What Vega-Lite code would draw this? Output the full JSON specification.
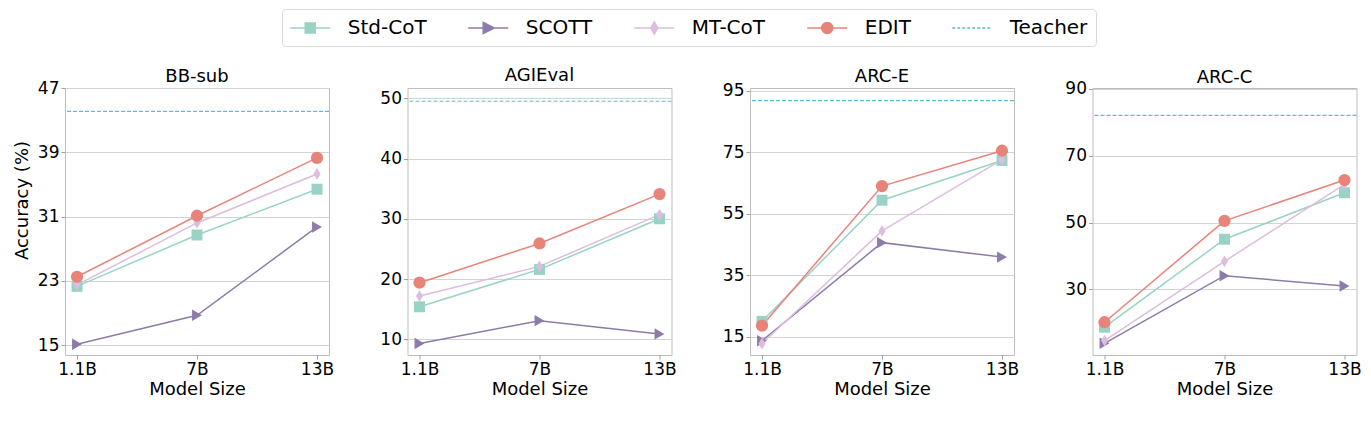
{
  "$schema": "https://vega.github.io/schema/vega-lite/v6.json",
  "description": "Accuracy vs model size for four benchmarks, with teacher reference line.",
  "padding": {"left": 12, "top": 8, "right": 5, "bottom": 5},
  "bounds": "flush",
  "spacing": 78.5,
  "data": {
    "values": [
      {"bench": "BB-sub", "method": "Std-CoT", "size": "1.1B", "acc": 22.3},
      {"bench": "BB-sub", "method": "Std-CoT", "size": "7B", "acc": 28.7},
      {"bench": "BB-sub", "method": "Std-CoT", "size": "13B", "acc": 34.4},
      {"bench": "BB-sub", "method": "SCOTT", "size": "1.1B", "acc": 15.1},
      {"bench": "BB-sub", "method": "SCOTT", "size": "7B", "acc": 18.7},
      {"bench": "BB-sub", "method": "SCOTT", "size": "13B", "acc": 29.7},
      {"bench": "BB-sub", "method": "MT-CoT", "size": "1.1B", "acc": 22.5},
      {"bench": "BB-sub", "method": "MT-CoT", "size": "7B", "acc": 30.2},
      {"bench": "BB-sub", "method": "MT-CoT", "size": "13B", "acc": 36.3},
      {"bench": "BB-sub", "method": "EDIT", "size": "1.1B", "acc": 23.5},
      {"bench": "BB-sub", "method": "EDIT", "size": "7B", "acc": 31.1},
      {"bench": "BB-sub", "method": "EDIT", "size": "13B", "acc": 38.3},
      {"bench": "BB-sub", "method": "Teacher", "size": null, "acc": 44.1},
      {"bench": "AGIEval", "method": "Std-CoT", "size": "1.1B", "acc": 15.4},
      {"bench": "AGIEval", "method": "Std-CoT", "size": "7B", "acc": 21.6},
      {"bench": "AGIEval", "method": "Std-CoT", "size": "13B", "acc": 30.0},
      {"bench": "AGIEval", "method": "SCOTT", "size": "1.1B", "acc": 9.3},
      {"bench": "AGIEval", "method": "SCOTT", "size": "7B", "acc": 13.1},
      {"bench": "AGIEval", "method": "SCOTT", "size": "13B", "acc": 10.9},
      {"bench": "AGIEval", "method": "MT-CoT", "size": "1.1B", "acc": 17.2},
      {"bench": "AGIEval", "method": "MT-CoT", "size": "7B", "acc": 22.1},
      {"bench": "AGIEval", "method": "MT-CoT", "size": "13B", "acc": 30.7},
      {"bench": "AGIEval", "method": "EDIT", "size": "1.1B", "acc": 19.4},
      {"bench": "AGIEval", "method": "EDIT", "size": "7B", "acc": 25.9},
      {"bench": "AGIEval", "method": "EDIT", "size": "13B", "acc": 34.1},
      {"bench": "AGIEval", "method": "Teacher", "size": null, "acc": 49.5},
      {"bench": "ARC-E", "method": "Std-CoT", "size": "1.1B", "acc": 20.0},
      {"bench": "ARC-E", "method": "Std-CoT", "size": "7B", "acc": 59.4},
      {"bench": "ARC-E", "method": "Std-CoT", "size": "13B", "acc": 72.3},
      {"bench": "ARC-E", "method": "SCOTT", "size": "1.1B", "acc": 13.7},
      {"bench": "ARC-E", "method": "SCOTT", "size": "7B", "acc": 45.6},
      {"bench": "ARC-E", "method": "SCOTT", "size": "13B", "acc": 40.9},
      {"bench": "ARC-E", "method": "MT-CoT", "size": "1.1B", "acc": 12.8},
      {"bench": "ARC-E", "method": "MT-CoT", "size": "7B", "acc": 49.4},
      {"bench": "ARC-E", "method": "MT-CoT", "size": "13B", "acc": 72.6},
      {"bench": "ARC-E", "method": "EDIT", "size": "1.1B", "acc": 18.6},
      {"bench": "ARC-E", "method": "EDIT", "size": "7B", "acc": 64.0},
      {"bench": "ARC-E", "method": "EDIT", "size": "13B", "acc": 75.5},
      {"bench": "ARC-E", "method": "Teacher", "size": null, "acc": 91.8},
      {"bench": "ARC-C", "method": "Std-CoT", "size": "1.1B", "acc": 18.7},
      {"bench": "ARC-C", "method": "Std-CoT", "size": "7B", "acc": 45.0},
      {"bench": "ARC-C", "method": "Std-CoT", "size": "13B", "acc": 58.9},
      {"bench": "ARC-C", "method": "SCOTT", "size": "1.1B", "acc": 13.9},
      {"bench": "ARC-C", "method": "SCOTT", "size": "7B", "acc": 34.1},
      {"bench": "ARC-C", "method": "SCOTT", "size": "13B", "acc": 31.0},
      {"bench": "ARC-C", "method": "MT-CoT", "size": "1.1B", "acc": 14.7},
      {"bench": "ARC-C", "method": "MT-CoT", "size": "7B", "acc": 38.4},
      {"bench": "ARC-C", "method": "MT-CoT", "size": "13B", "acc": 61.4},
      {"bench": "ARC-C", "method": "EDIT", "size": "1.1B", "acc": 20.2},
      {"bench": "ARC-C", "method": "EDIT", "size": "7B", "acc": 50.5},
      {"bench": "ARC-C", "method": "EDIT", "size": "13B", "acc": 62.7},
      {"bench": "ARC-C", "method": "Teacher", "size": null, "acc": 82.0}
    ]
  },
  "hconcat": [
    {
      "width": 264,
      "height": 267,
      "title": {"text": "BB-sub", "offset": -7},
      "transform": [{"filter": "datum.bench === 'BB-sub'"}],
      "encoding": {
        "y": {
          "field": "acc",
          "type": "quantitative",
          "scale": {"domain": [13.76, 47], "nice": false, "zero": false},
          "axis": {"values": [15, 23, 31, 39, 47], "title": "Accuracy (%)", "titleY": 112, "titlePadding": 6}
        }
      },
      "layer": [
        {
          "transform": [{"filter": "datum.method === 'Teacher'"}],
          "mark": {"type": "rule", "strokeDash": [4, 2], "strokeWidth": 1.2},
          "encoding": {
            "color": {"field": "method", "type": "nominal"}
          }
        },
        {
          "transform": [{"filter": "datum.method !== 'Teacher'"}],
          "mark": {"type": "line", "strokeWidth": 1.5},
          "encoding": {
            "x": {"field": "size", "type": "ordinal", "sort": ["1.1B", "7B", "13B"], "scale": {"type": "point", "padding": 0.1}, "axis": {"title": "Model Size", "labelAngle": 0}},
            "color": {
              "field": "method",
              "type": "nominal",
              "scale": {
                "domain": ["Std-CoT", "SCOTT", "MT-CoT", "EDIT", "Teacher"],
                "range": ["#98d3c6", "#8c7bab", "#dcbde0", "#e8837a", "#5bbcd6"]
              },
              "legend": {
                "title": null,
                "orient": "none",
                "direction": "horizontal",
                "legendX": 217,
                "legendY": -79,
                "symbolSize": 400,
                "symbolOffset": 9.25,
                "labelOffset": 26.5,
                "columnPadding": 38,
                "padding": 8,
                "labelFontSize": 20,
                "labelColor": "black",
                "strokeColor": "#d9d9d9",
                "fillColor": "white",
                "cornerRadius": 4,
                "encode": {
                  "symbols": {
                    "update": {
                      "shape": [
                        {"test": "datum.value === 'Std-CoT'", "value": "M-2,0L2,0M-0.5,-0.5L0.5,-0.5L0.5,0.5L-0.5,0.5Z"},
                        {"test": "datum.value === 'SCOTT'", "value": "M-2,0L2,0M-0.5,-0.55L0.6,0L-0.5,0.55Z"},
                        {"test": "datum.value === 'MT-CoT'", "value": "M-2,0L2,0M0,-0.6L0.36,0L0,0.6L-0.36,0Z"},
                        {"test": "datum.value === 'EDIT'", "value": "M-2,0L2,0M-0.55,0A0.55,0.55 0 1,0 0.55,0A0.55,0.55 0 1,0 -0.55,0Z"},
                        {"value": "M-2,0L2,0"}
                      ],
                      "size": {"value": 400},
                      "fill": [
                        {"test": "datum.value === 'Teacher'", "value": "transparent"},
                        {"scale": "color", "field": "value"}
                      ],
                      "stroke": {"scale": "color", "field": "value"},
                      "strokeDash": [
                        {"test": "datum.value === 'Teacher'", "value": [3, 2]},
                        {"value": []}
                      ],
                      "strokeWidth": {"value": 1.5},
                      "opacity": {"value": 1}
                    }
                  }
                }
              }
            }
          }
        },
        {
          "transform": [{"filter": "datum.method !== 'Teacher'"}],
          "mark": {"type": "point", "filled": true, "opacity": 1},
          "encoding": {
            "x": {"field": "size", "type": "ordinal", "sort": ["1.1B", "7B", "13B"], "scale": {"type": "point", "padding": 0.1}},
            "color": {"field": "method", "type": "nominal"},
            "shape": {
              "field": "method",
              "type": "nominal",
              "scale": {"domain": ["Std-CoT", "SCOTT", "MT-CoT", "EDIT"], "range": ["square", "triangle-right", "M0,-1L0.6,0L0,1L-0.6,0Z", "circle"]},
              "legend": null
            },
            "size": {
              "field": "method",
              "type": "nominal",
              "scale": {"domain": ["Std-CoT", "SCOTT", "MT-CoT", "EDIT"], "range": [120, 150, 180, 140]},
              "legend": null
            }
          }
        }
      ]
    },
    {
      "width": 264,
      "height": 267,
      "title": {"text": "AGIEval", "offset": 3},
      "transform": [{"filter": "datum.bench === 'AGIEval'"}],
      "encoding": {
        "y": {
          "field": "acc",
          "type": "quantitative",
          "scale": {"domain": [7.4, 51.7], "nice": false, "zero": false},
          "axis": {"values": [10, 20, 30, 40, 50], "title": null}
        }
      },
      "layer": [
        {
          "transform": [{"filter": "datum.method === 'Teacher'"}],
          "mark": {"type": "rule", "strokeDash": [4, 2], "strokeWidth": 1.2},
          "encoding": {"color": {"field": "method", "type": "nominal"}}
        },
        {
          "transform": [{"filter": "datum.method !== 'Teacher'"}],
          "mark": {"type": "line", "strokeWidth": 1.5},
          "encoding": {
            "x": {"field": "size", "type": "ordinal", "sort": ["1.1B", "7B", "13B"], "scale": {"type": "point", "padding": 0.1}, "axis": {"title": "Model Size", "labelAngle": 0}},
            "color": {"field": "method", "type": "nominal"}
          }
        },
        {
          "transform": [{"filter": "datum.method !== 'Teacher'"}],
          "mark": {"type": "point", "filled": true, "opacity": 1},
          "encoding": {
            "x": {"field": "size", "type": "ordinal", "sort": ["1.1B", "7B", "13B"], "scale": {"type": "point", "padding": 0.1}},
            "color": {"field": "method", "type": "nominal"},
            "shape": {"field": "method", "type": "nominal", "legend": null},
            "size": {"field": "method", "type": "nominal", "legend": null}
          }
        }
      ]
    },
    {
      "width": 264,
      "height": 267,
      "title": {"text": "ARC-E", "offset": -4},
      "transform": [{"filter": "datum.bench === 'ARC-E'"}],
      "encoding": {
        "y": {
          "field": "acc",
          "type": "quantitative",
          "scale": {"domain": [9.05, 95.9], "nice": false, "zero": false},
          "axis": {"values": [15, 35, 55, 75, 95], "title": null}
        }
      },
      "layer": [
        {
          "transform": [{"filter": "datum.method === 'Teacher'"}],
          "mark": {"type": "rule", "strokeDash": [4, 2], "strokeWidth": 1.2},
          "encoding": {"color": {"field": "method", "type": "nominal"}}
        },
        {
          "transform": [{"filter": "datum.method !== 'Teacher'"}],
          "mark": {"type": "line", "strokeWidth": 1.5},
          "encoding": {
            "x": {"field": "size", "type": "ordinal", "sort": ["1.1B", "7B", "13B"], "scale": {"type": "point", "padding": 0.1}, "axis": {"title": "Model Size", "labelAngle": 0}},
            "color": {"field": "method", "type": "nominal"}
          }
        },
        {
          "transform": [{"filter": "datum.method !== 'Teacher'"}],
          "mark": {"type": "point", "filled": true, "opacity": 1},
          "encoding": {
            "x": {"field": "size", "type": "ordinal", "sort": ["1.1B", "7B", "13B"], "scale": {"type": "point", "padding": 0.1}},
            "color": {"field": "method", "type": "nominal"},
            "shape": {"field": "method", "type": "nominal", "legend": null},
            "size": {"field": "method", "type": "nominal", "legend": null}
          }
        }
      ]
    },
    {
      "width": 264,
      "height": 267,
      "title": {"text": "ARC-C", "offset": -7},
      "transform": [{"filter": "datum.bench === 'ARC-C'"}],
      "encoding": {
        "y": {
          "field": "acc",
          "type": "quantitative",
          "scale": {"domain": [10.4, 90.2], "nice": false, "zero": false},
          "axis": {"values": [30, 50, 70, 90], "title": null}
        }
      },
      "layer": [
        {
          "transform": [{"filter": "datum.method === 'Teacher'"}],
          "mark": {"type": "rule", "strokeDash": [4, 2], "strokeWidth": 1.2},
          "encoding": {"color": {"field": "method", "type": "nominal"}}
        },
        {
          "transform": [{"filter": "datum.method !== 'Teacher'"}],
          "mark": {"type": "line", "strokeWidth": 1.5},
          "encoding": {
            "x": {"field": "size", "type": "ordinal", "sort": ["1.1B", "7B", "13B"], "scale": {"type": "point", "padding": 0.1}, "axis": {"title": "Model Size", "labelAngle": 0}},
            "color": {"field": "method", "type": "nominal"}
          }
        },
        {
          "transform": [{"filter": "datum.method !== 'Teacher'"}],
          "mark": {"type": "point", "filled": true, "opacity": 1},
          "encoding": {
            "x": {"field": "size", "type": "ordinal", "sort": ["1.1B", "7B", "13B"], "scale": {"type": "point", "padding": 0.1}},
            "color": {"field": "method", "type": "nominal"},
            "shape": {"field": "method", "type": "nominal", "legend": null},
            "size": {"field": "method", "type": "nominal", "legend": null}
          }
        }
      ]
    }
  ],
  "resolve": {"scale": {"x": "independent", "y": "independent"}},
  "config": {
    "font": "DejaVu Sans",
    "view": {"stroke": "#bdbdbd", "strokeWidth": 1},
    "axis": {
      "labelFontSize": 17,
      "titleFontSize": 18,
      "titleFontWeight": "normal",
      "labelColor": "black",
      "titleColor": "black",
      "gridColor": "#d3d3d3",
      "gridWidth": 1,
      "tickColor": "#a0a0a0",
      "tickSize": 4,
      "labelPadding": 2,
      "domain": false
    },
    "axisX": {"titlePadding": 3},
    "title": {"fontSize": 18, "fontWeight": "normal", "color": "black", "frame": "group"}
  }
}
